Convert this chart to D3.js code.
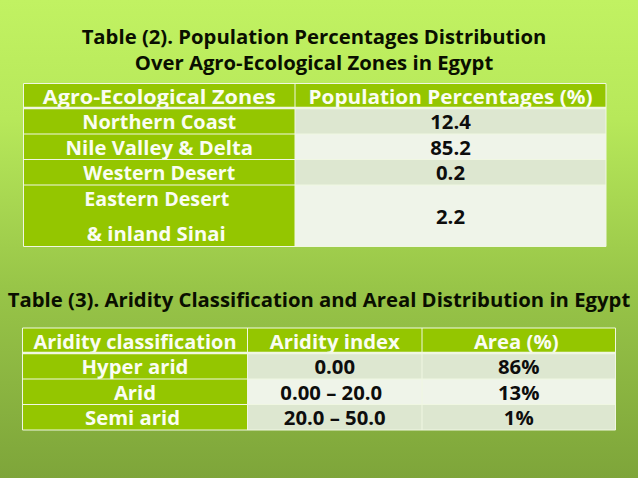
<!DOCTYPE html>
<html>
<head>
<meta charset="utf-8">
<script src="https://cdn.jsdelivr.net/npm/d3@7"></script>
<style>
  html, body { margin: 0; padding: 0; background: #9cc94a; }
  svg { display: block; }
  text { font-family: "Open Sans", Lato, sans-serif; font-weight: 700; }
</style>
</head>
<body>
<div id="canvas"></div>
<script>
// table 2
let zoneHeader = ["Agro-Ecological Zones", "Population Percentages (%)"];
let zones = ["Northern Coast", "Nile Valley & Delta", "Western Desert", ["Eastern Desert", "& inland Sinai"]];
let popPercent = ["12.4", "85.2", "0.2", "2.2"];

// table 3
let aridHeader = ["Aridity classification", "Aridity index", "Area (%)"];
let aridClasses = ["Hyper arid", "Arid", "Semi arid"];
let aridIndex = ["0.00", "0.00 – 20.0", "20.0 – 50.0"];
let aridArea = ["86%", "13%", "1%"];

let width = 638, height = 478;
let fontSize = 20.3;

// a few cells are not centered in the original slide, or run wider
let nudge = { "Eastern Desert": -2.5, "& inland Sinai": -3, "Semi arid": -2.5, "0.00 – 20.0": -3.5, "Area (%)": -2.5 };
let fitWidth = { "Agro-Ecological Zones": 233, "Population Percentages (%)": 284, "Aridity classification": 203,
  "Northern Coast": 154, "Western Desert": 152, "Eastern Desert": 145 };

let svg = d3.select("#canvas").append("svg").attr("width", width).attr("height", height);

let grad = svg.append("defs").append("linearGradient")
  .attr("id", "bg").attr("x1", 0).attr("y1", 0).attr("x2", 0).attr("y2", 1);
grad.append("stop").attr("offset", "0%").attr("stop-color", "#c1f262");
grad.append("stop").attr("offset", "25%").attr("stop-color", "#b7e85a");
grad.append("stop").attr("offset", "60%").attr("stop-color", "#98c548");
grad.append("stop").attr("offset", "100%").attr("stop-color", "#7ea53a");
svg.append("rect").attr("width", width).attr("height", height).attr("fill", "url(#bg)");

let titles = [
  { t: "Table (2). Population Percentages Distribution", x: 314, y: 44 },
  { t: "Over Agro-Ecological Zones in Egypt", x: 314, y: 70 },
  { t: "Table (3). Aridity Classification and Areal Distribution in Egypt", x: 319, y: 307 },
];
svg.selectAll("text.title").data(titles).join("text")
  .attr("class", "title")
  .attr("x", (d) => d.x).attr("y", (d) => d.y)
  .attr("text-anchor", "middle")
  .attr("font-size", fontSize).attr("fill", "#0a0f00")
  .text((d) => d.t);

// draws one table, columns and rows are placed by scales on the edges
let drawTable = (columns, colEdges, rowEdges) => {
  let nRows = rowEdges.length - 1;
  let x = d3.scaleLinear().domain(d3.range(colEdges.length)).range(colEdges);
  let y = d3.scaleLinear().domain(d3.range(rowEdges.length)).range(rowEdges);
  let g = svg.append("g");

  columns.forEach((col, c) => {
    col.forEach((val, r) => {
      let fill;
      if (r == 0 || c == 0) fill = "#94c600";
      else fill = r % 2 == 1 ? "#dde7d0" : "#eff4e9";
      g.append("rect")
        .attr("x", x(c)).attr("y", y(r))
        .attr("width", x(c + 1) - x(c)).attr("height", y(r + 1) - y(r))
        .attr("fill", fill);
      let lines = Array.isArray(val) ? val : [val];
      let mid = (y(r) + y(r + 1)) / 2;
      lines.forEach((line, i) => {
        let t = g.append("text")
          .attr("x", (x(c) + x(c + 1)) / 2 + (nudge[line] || 0))
          .attr("y", mid + 8 + (i - (lines.length - 1) / 2) * 35)
          .attr("text-anchor", "middle")
          .attr("font-size", fontSize)
          .attr("fill", r == 0 || c == 0 ? "#fafdf2" : "#0d0d0d")
          .text(line);
        if (fitWidth[line]) t.attr("textLength", fitWidth[line]).attr("lengthAdjust", "spacingAndGlyphs");
      });
    });
  });

  // white grid lines
  let lineW = (i) => (i == 1 ? 2.5 : 1.2);
  g.selectAll("line.h").data(rowEdges).join("line")
    .attr("class", "h")
    .attr("x1", colEdges[0]).attr("x2", colEdges[colEdges.length - 1])
    .attr("y1", (d) => d).attr("y2", (d) => d)
    .attr("stroke", "#f0f7e2").attr("stroke-width", (d, i) => lineW(i));
  g.selectAll("line.v").data(colEdges).join("line")
    .attr("class", "v")
    .attr("x1", (d) => d).attr("x2", (d) => d)
    .attr("y1", rowEdges[0]).attr("y2", rowEdges[nRows])
    .attr("stroke", "#f0f7e2").attr("stroke-width", 1);
};

drawTable(
  [[zoneHeader[0], ...zones], [zoneHeader[1], ...popPercent]],
  [23.5, 295, 606],
  [83.5, 108, 134, 159.5, 185, 246.5]
);
drawTable(
  [[aridHeader[0], ...aridClasses], [aridHeader[1], ...aridIndex], [aridHeader[2], ...aridArea]],
  [22.5, 247.5, 422, 615.5],
  [328, 353, 379, 404.5, 430]
);
</script>
</body>
</html>
